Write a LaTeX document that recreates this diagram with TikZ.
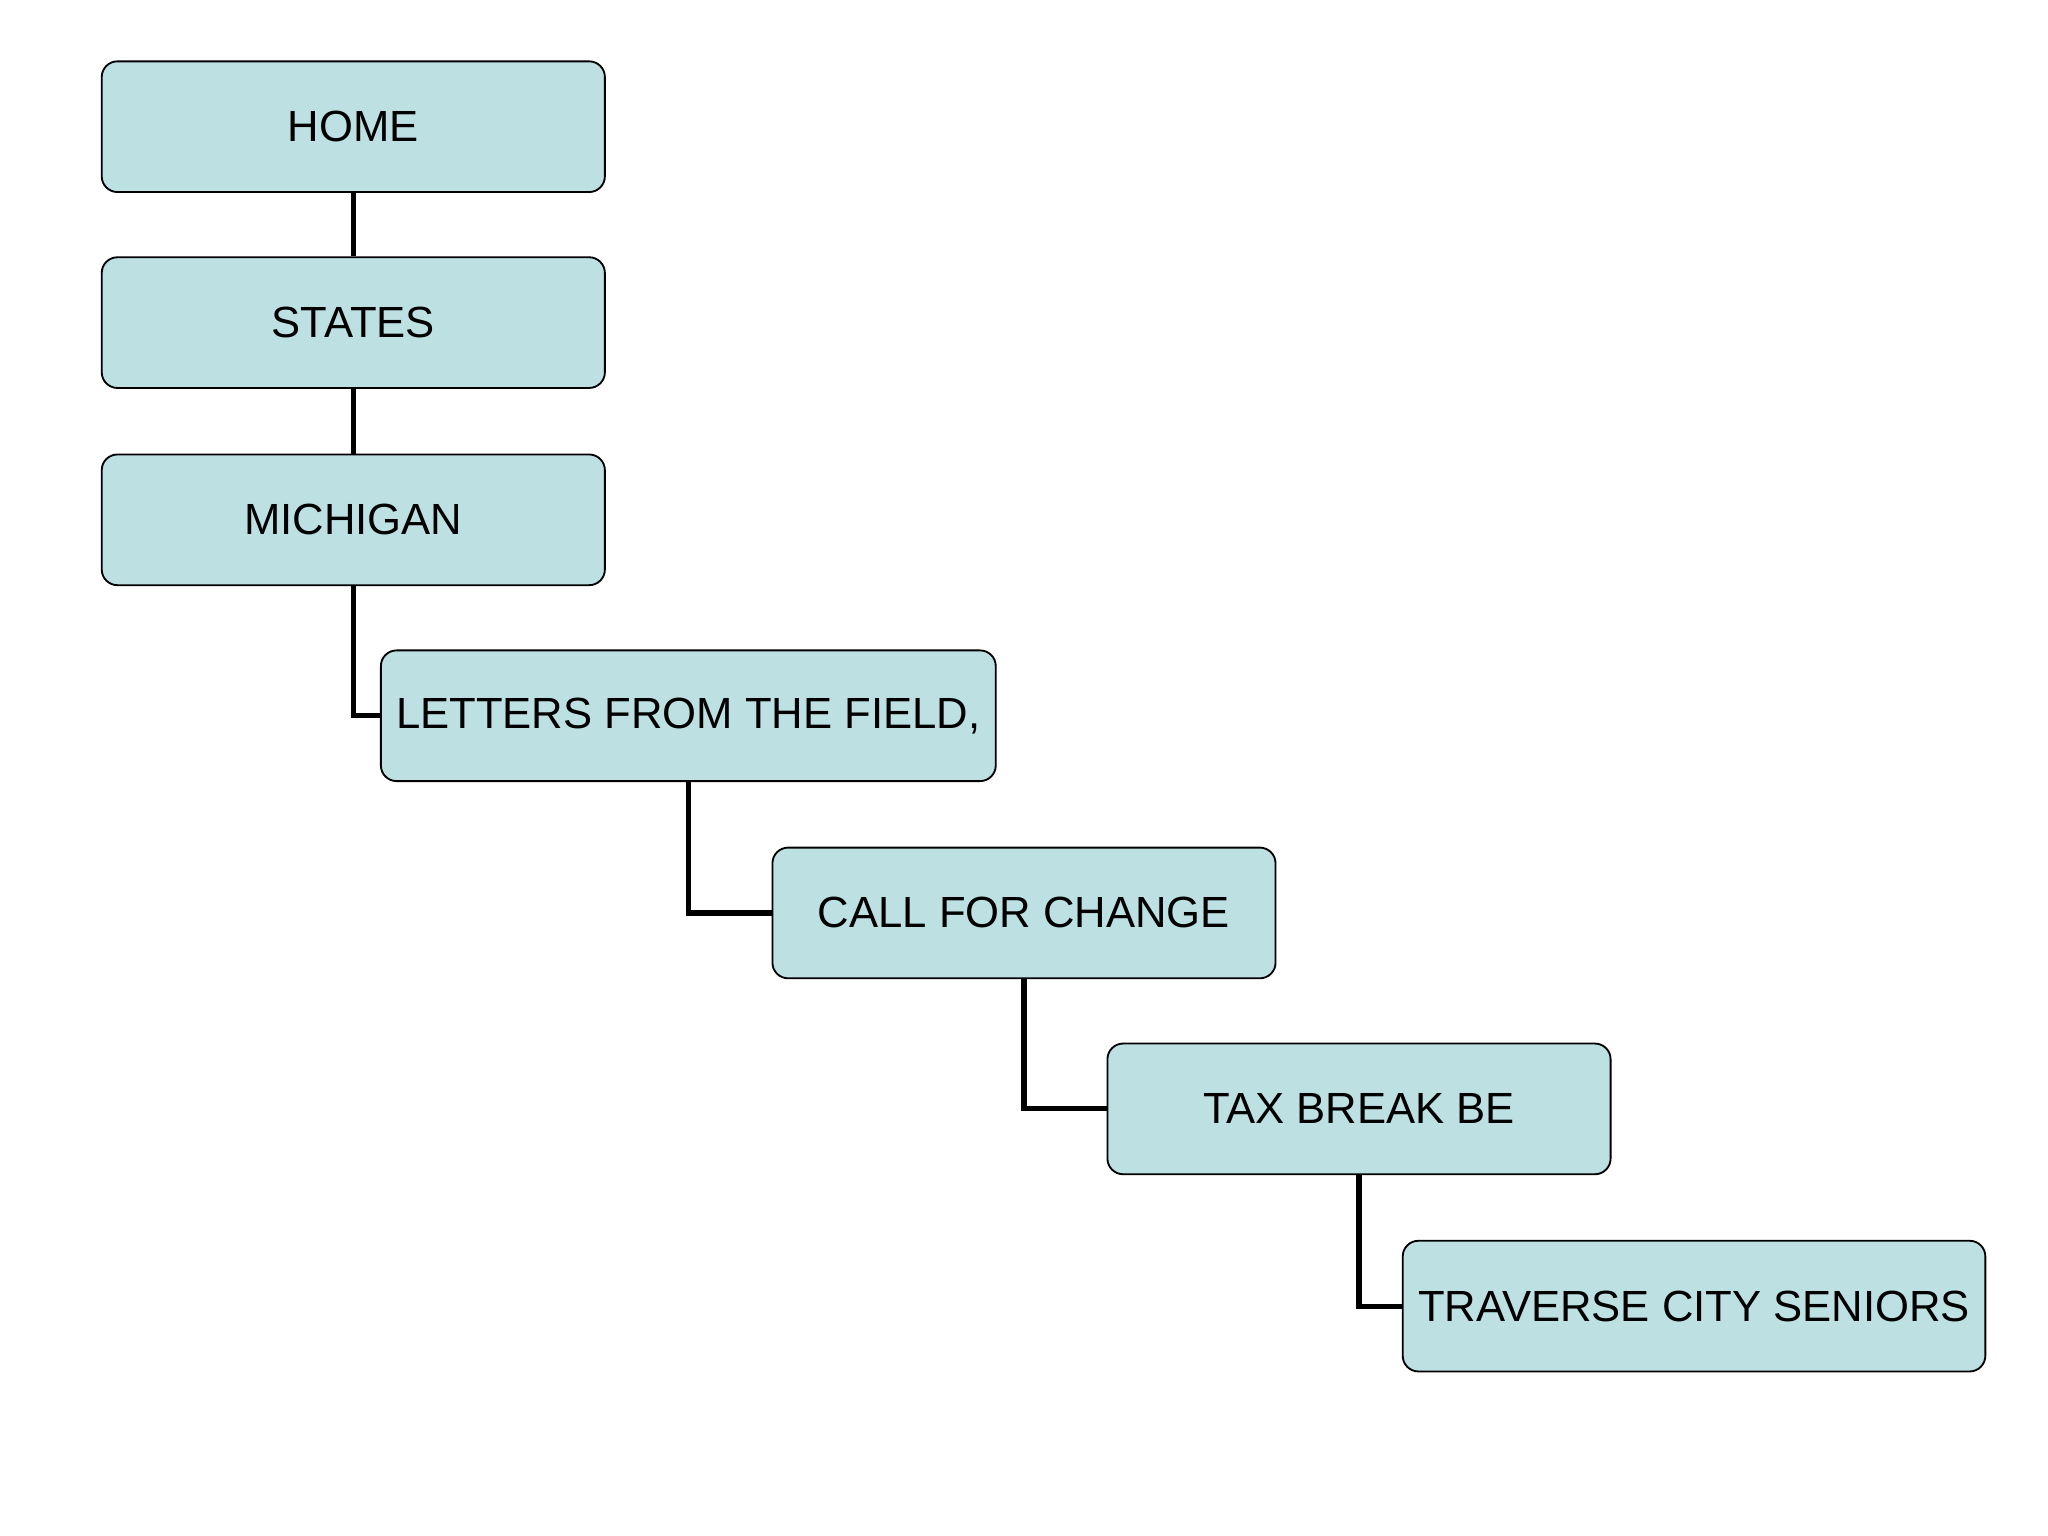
\documentclass[tikz,border=0pt]{standalone}
\usepackage{fontspec}
\setmainfont{Liberation Sans}
\usetikzlibrary{backgrounds}
\definecolor{boxblue}{HTML}{BDE0E3}
\tikzset{
    page/.style={x=0.01cm, y=-0.01cm},
    pagebox/.style={draw, rectangle, rounded corners=0.12cm, fill=boxblue, minimum width=3.85cm, minimum height=1cm, anchor=center, font=\fontsize{9.5}{11}\selectfont},
    link/.style={line width=1.1pt} }

\begin{document}
\begin{tikzpicture}[page]
			\useasboundingbox (0,0) rectangle (1568,1176);
			\node[pagebox] (HOME) at (270.5,97) {HOME};
			\node[pagebox] (STATES) at (270.5,247) {STATES};
			\node[pagebox] (MICHIGAN) at (270.5,398) {MICHIGAN};
			\node[pagebox] (LETTERS) at (527,548) {LETTERS FROM THE FIELD,};
			\node[pagebox] (CHANGE) at (784,699) {CALL FOR CHANGE};
			\node[pagebox] (TAX) at (1040.5,849) {TAX BREAK BE};
			\node[pagebox] (TRAVERSE) at (1297,1000) {TRAVERSE CITY SENIORS};
			% ----
			\begin{scope}[on background layer]
			\draw[link] (HOME) -- (STATES);
			\draw[link] (STATES) -- (MICHIGAN);
			\draw[link] (MICHIGAN.south) |- (LETTERS.west);
			\draw[link] (LETTERS.south) |- (CHANGE.west);
			\draw[link] (CHANGE.south) |- (TAX.west);
			\draw[link] (TAX.south) |- (TRAVERSE.west);
			\end{scope}
		\end{tikzpicture}
\end{document}
